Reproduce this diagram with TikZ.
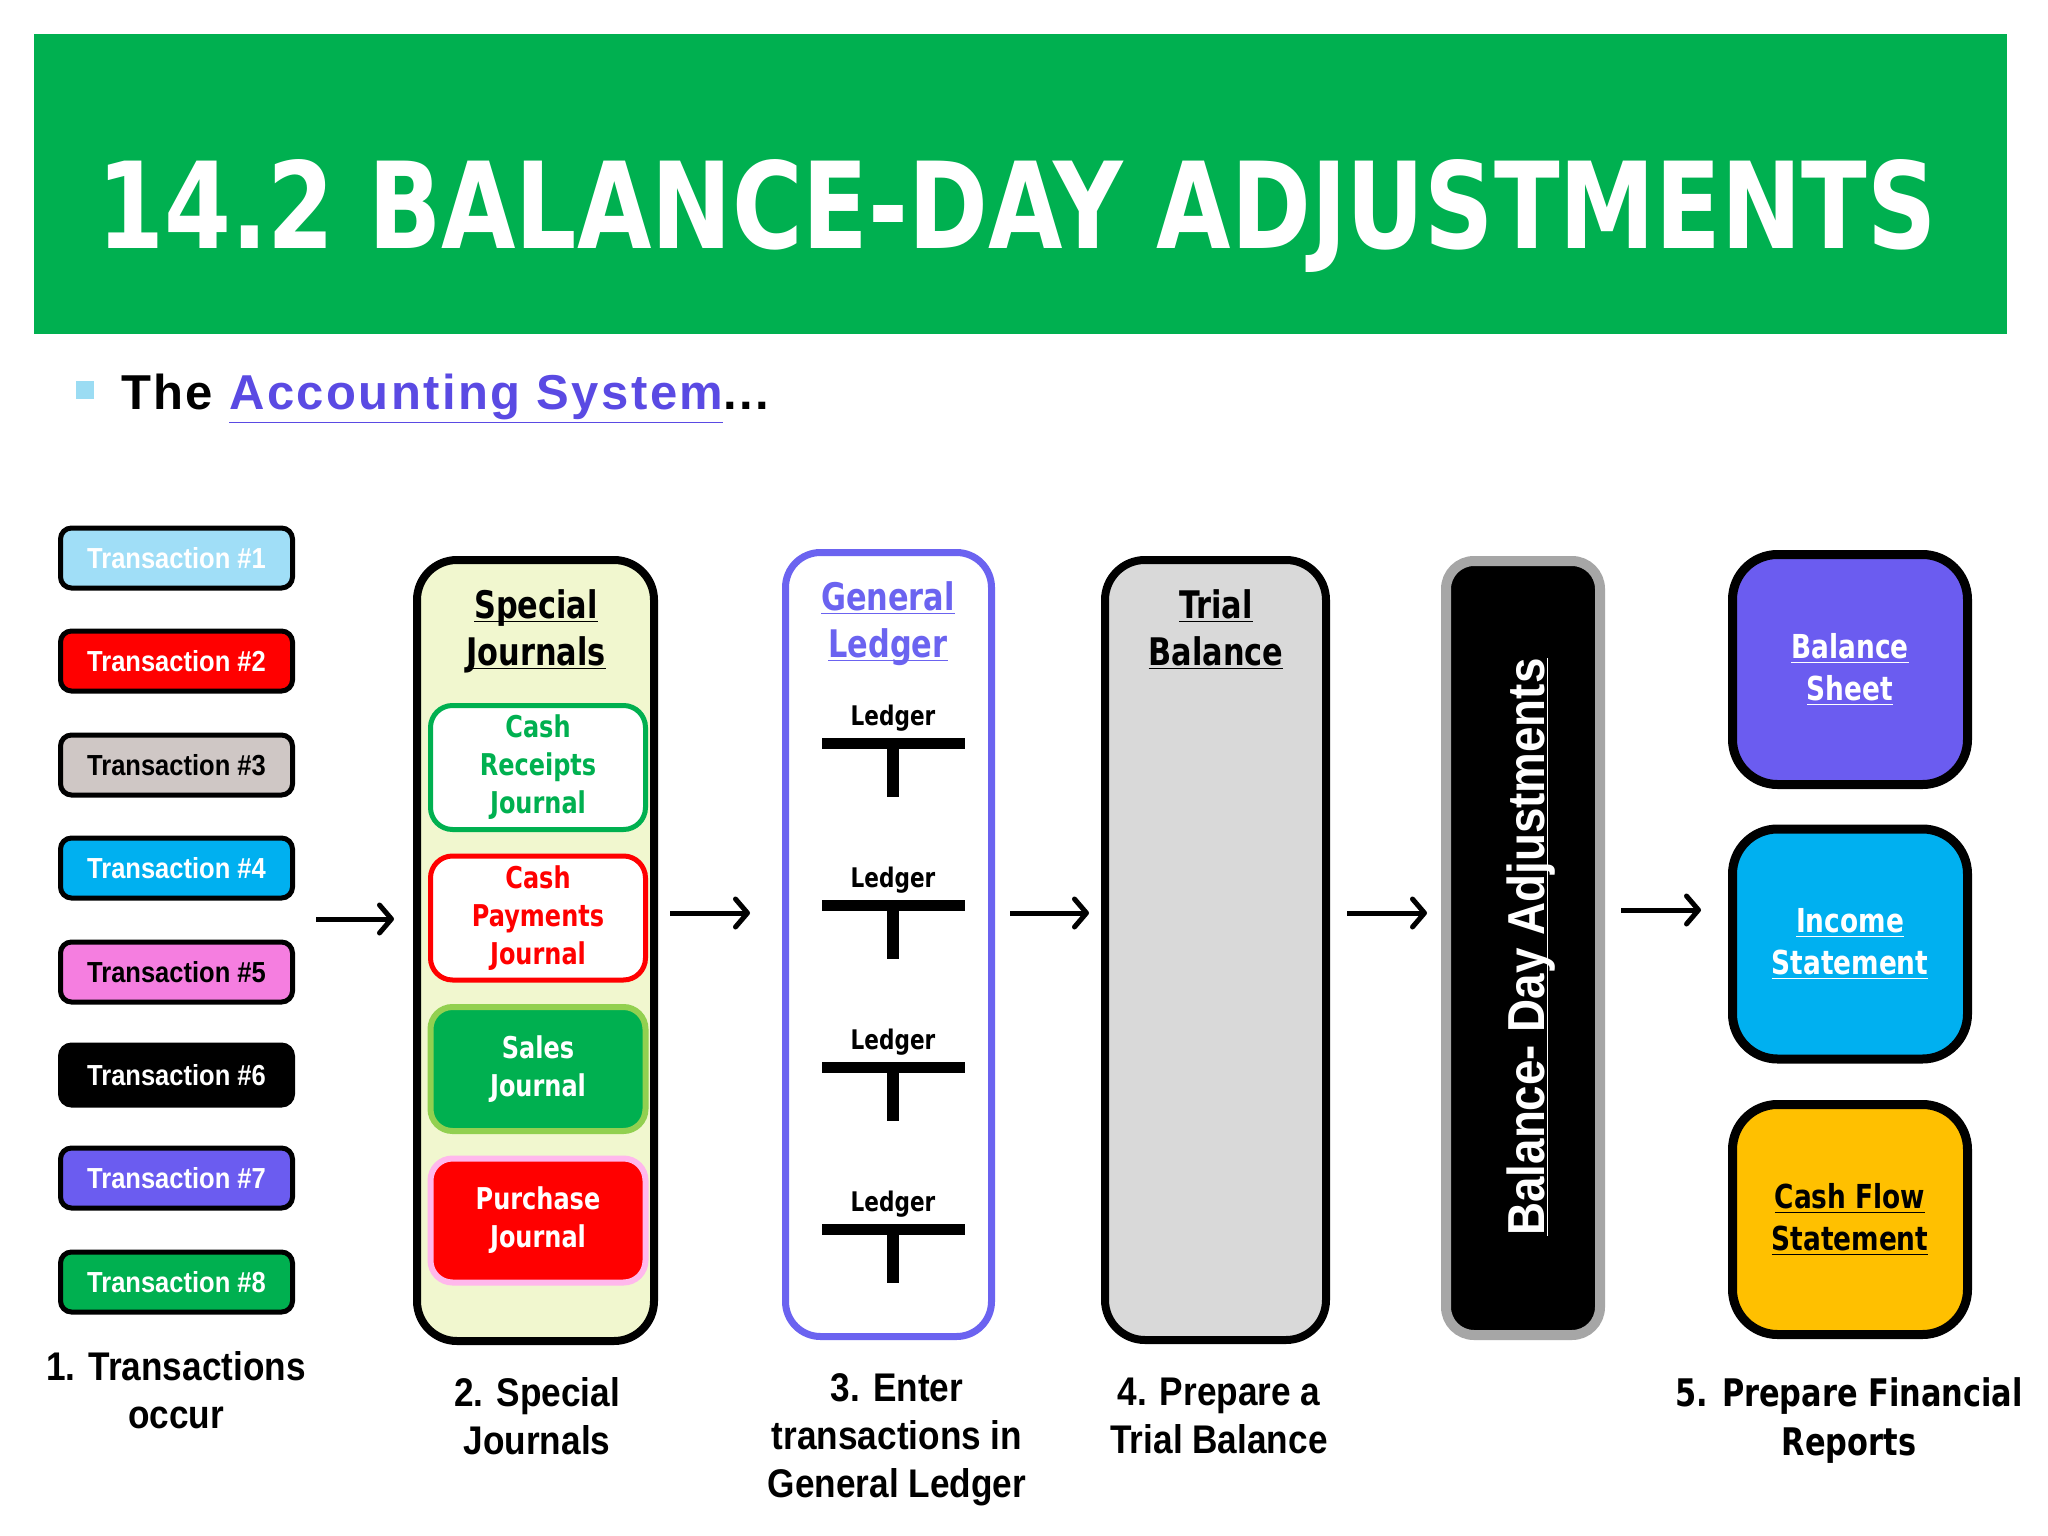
\documentclass[tikz,border=0pt]{standalone}
\usepackage{amsmath}
\usepackage{fontspec}
\setmainfont{Liberation Sans}
\newfontfamily\widefont[FakeStretch=0.8]{DejaVu Sans}
\newfontfamily\narrowfont[FakeStretch=0.88]{Liberation Sans}
\newfontfamily\titlefont{DejaVu Sans}
\newfontfamily\subfont[LetterSpace=5]{Liberation Sans}
\newcommand\ulx[1]{\underline{\smash[b]{#1}}}
\usetikzlibrary{arrows.meta}
\definecolor{hdrgreen}{HTML}{00B050}
\definecolor{bulletblue}{HTML}{9BDCF3}
\definecolor{linkblue}{HTML}{5A4AE3}
\definecolor{tone}{HTML}{A0DEF7}
\definecolor{ttwo}{HTML}{FF0000}
\definecolor{tthree}{HTML}{CFC7C5}
\definecolor{tfour}{HTML}{00B0F0}
\definecolor{tfive}{HTML}{F57EE0}
\definecolor{tsix}{HTML}{000000}
\definecolor{tseven}{HTML}{6B5CF0}
\definecolor{teight}{HTML}{00B050}
\definecolor{sjfill}{HTML}{F1F7CF}
\definecolor{glcol}{HTML}{6B63F0}
\definecolor{tbfill}{HTML}{D9D9D9}
\definecolor{bdaborder}{HTML}{A6A6A6}
\definecolor{salesborder}{HTML}{92D050}
\definecolor{purchborder}{HTML}{FFB8EC}
\definecolor{cfyellow}{HTML}{FFC000}
\begin{document}
\begin{tikzpicture}[x=1pt,y=-1pt,
  tbox/.style={draw=black, line width=5pt, rounded corners=11pt, minimum width=232pt, minimum height=60pt, inner sep=0pt, font=\narrowfont\bfseries\fontsize{29}{34}\selectfont},
  bigbox/.style={line width=8pt, rounded corners=40pt, inner sep=0pt},
  boxtitle/.style={align=center, inner sep=0pt, font=\widefont\bfseries\fontsize{38}{47}\selectfont},
  jbox/.style={line width=5pt, rounded corners=22pt, minimum width=215pt, minimum height=124pt, inner sep=0pt, align=center, font=\widefont\bfseries\fontsize{30}{38}\selectfont},
  rbox/.style={draw=black, line width=9pt, rounded corners=45pt, minimum width=235pt, minimum height=230pt, inner sep=0pt, align=center, font=\widefont\bfseries\fontsize{33}{42}\selectfont},
  ledgerlbl/.style={inner sep=0pt, font=\widefont\bfseries\fontsize{27}{32}\selectfont},
  steplabel/.style={align=center, inner sep=0pt, font=\narrowfont\bfseries\fontsize{40}{48}\selectfont},
  arr/.style={line width=5pt, -{Straight Barb[length=12pt,width=28pt,round]}},
]
\useasboundingbox (0,0) rectangle (2048,1536);
\fill[white] (0,0) rectangle (2048,1536);

% header
\node[fill=hdrgreen, minimum width=1973pt, minimum height=300pt, inner sep=0pt, anchor=north west] (hdr) at (34,34) {};
\node[text=white, anchor=base, inner sep=0pt] (title) at (1017,248) {\resizebox{1839pt}{89pt}{\titlefont\bfseries 14.2 BALANCE-DAY ADJUSTMENTS}};

% subtitle
\node[fill=bulletblue, minimum size=18pt, inner sep=0pt] (bul) at (85,389.5) {};
\node[anchor=base west, inner sep=0pt] (sub) at (121,409) {\subfont\bfseries\fontsize{49}{58}\selectfont The \textcolor{linkblue}{\underline{Accounting System}}...};

% transactions
\node[tbox, fill=tone, text=white] (t1) at (176.5,558) {Transaction \#1};
\node[tbox, fill=ttwo, text=white] (t2) at (176.5,661) {Transaction \#2};
\node[tbox, fill=tthree, text=black] (t3) at (176.5,765) {Transaction \#3};
\node[tbox, fill=tfour, text=white] (t4) at (176.5,868) {Transaction \#4};
\node[tbox, fill=tfive, text=black] (t5) at (176.5,972) {Transaction \#5};
\node[tbox, fill=tsix, text=white] (t6) at (176.5,1075) {Transaction \#6};
\node[tbox, fill=tseven, text=white] (t7) at (176.5,1178) {Transaction \#7};
\node[tbox, fill=teight, text=white] (t8) at (176.5,1282) {Transaction \#8};
\node[steplabel] (s1) at (176,1390) {1. Transactions\\occur};

% special journals
\node[bigbox, draw=black, fill=sjfill, minimum width=237pt, minimum height=781pt] (sj) at (535.5,950.5) {};
\node[boxtitle] (sjt) at (536,630) {\ulx{Special}\\\ulx{Journals}};
\node[jbox, draw=hdrgreen, fill=white, text=hdrgreen] (crj) at (538,767.5) {Cash\\Receipts\\Journal};
\node[jbox, draw=ttwo, fill=white, text=ttwo] (cpj) at (538,918) {Cash\\Payments\\Journal};
\node[jbox, draw=salesborder, line width=6pt, fill=hdrgreen, text=white] (saj) at (538,1069) {Sales\\Journal};
\node[jbox, draw=purchborder, line width=6pt, fill=ttwo, text=white] (puj) at (538,1220.5) {Purchase\\Journal};
\node[steplabel] (s2) at (537,1416) {2. Special\\Journals};

% general ledger
\node[bigbox, draw=glcol, line width=7pt, rounded corners=35pt, fill=white, minimum width=206pt, minimum height=784pt] (gl) at (888.5,944.5) {};
\node[boxtitle, text=glcol] (glt) at (888,622) {\ulx{General}\\\ulx{Ledger}};
\foreach \k/\yy in {1/718,2/880,3/1042,4/1204}{
  \node[ledgerlbl] (lg\k) at (893,\yy) {Ledger};
  \draw[line width=11pt] (822,\yy+25) -- (965,\yy+25);
  \draw[line width=12pt] (893,\yy+25) -- (893,\yy+79);
}
\node[steplabel] (s3) at (897,1440) {3. Enter\\transactions in\\General Ledger};

% trial balance
\node[bigbox, draw=black, fill=tbfill, minimum width=221pt, minimum height=780pt] (tb) at (1215.5,950) {};
\node[boxtitle] (tbt) at (1216,630) {\ulx{Trial}\\\ulx{Balance}};
\node[steplabel] (s4) at (1219,1416) {4. Prepare a\\Trial Balance};

% balance-day adjustments
\node[draw=bdaborder, line width=10pt, rounded corners=28pt, fill=black, minimum width=154pt, minimum height=774pt, inner sep=0pt] (bda) at (1523,948) {};
\node[rotate=90, text=white, inner sep=0pt, font=\narrowfont\bfseries\fontsize{52}{60}\selectfont] (bdat) at (1528,947) {\ulx{Balance- Day Adjustments}};

% reports
\node[rbox, fill=tseven, text=white] (bs) at (1850,669.5) {\ulx{Balance}\\\ulx{Sheet}};
\node[rbox, fill=tfour, text=white] (is) at (1850,944) {\ulx{Income}\\\ulx{Statement}};
\node[rbox, fill=cfyellow, text=black] (cf) at (1850,1219.5) {\ulx{Cash Flow}\\\ulx{Statement}};
\node[steplabel, font=\widefont\bfseries\fontsize{38}{49}\selectfont] (s5) at (1849,1421) {5. Prepare Financial\\Reports};

% arrows
\coordinate (a1s) at (316,919); \coordinate (a1e) at (394,919);
\coordinate (a2s) at (670,913); \coordinate (a2e) at (750,913);
\coordinate (a3s) at (1010,913); \coordinate (a3e) at (1089,913);
\coordinate (a4s) at (1347,913); \coordinate (a4e) at (1427,913);
\coordinate (a5s) at (1621,910); \coordinate (a5e) at (1701,910);
\draw[arr] (a1s) -- (a1e);
\draw[arr] (a2s) -- (a2e);
\draw[arr] (a3s) -- (a3e);
\draw[arr] (a4s) -- (a4e);
\draw[arr] (a5s) -- (a5e);
\end{tikzpicture}
\end{document}
